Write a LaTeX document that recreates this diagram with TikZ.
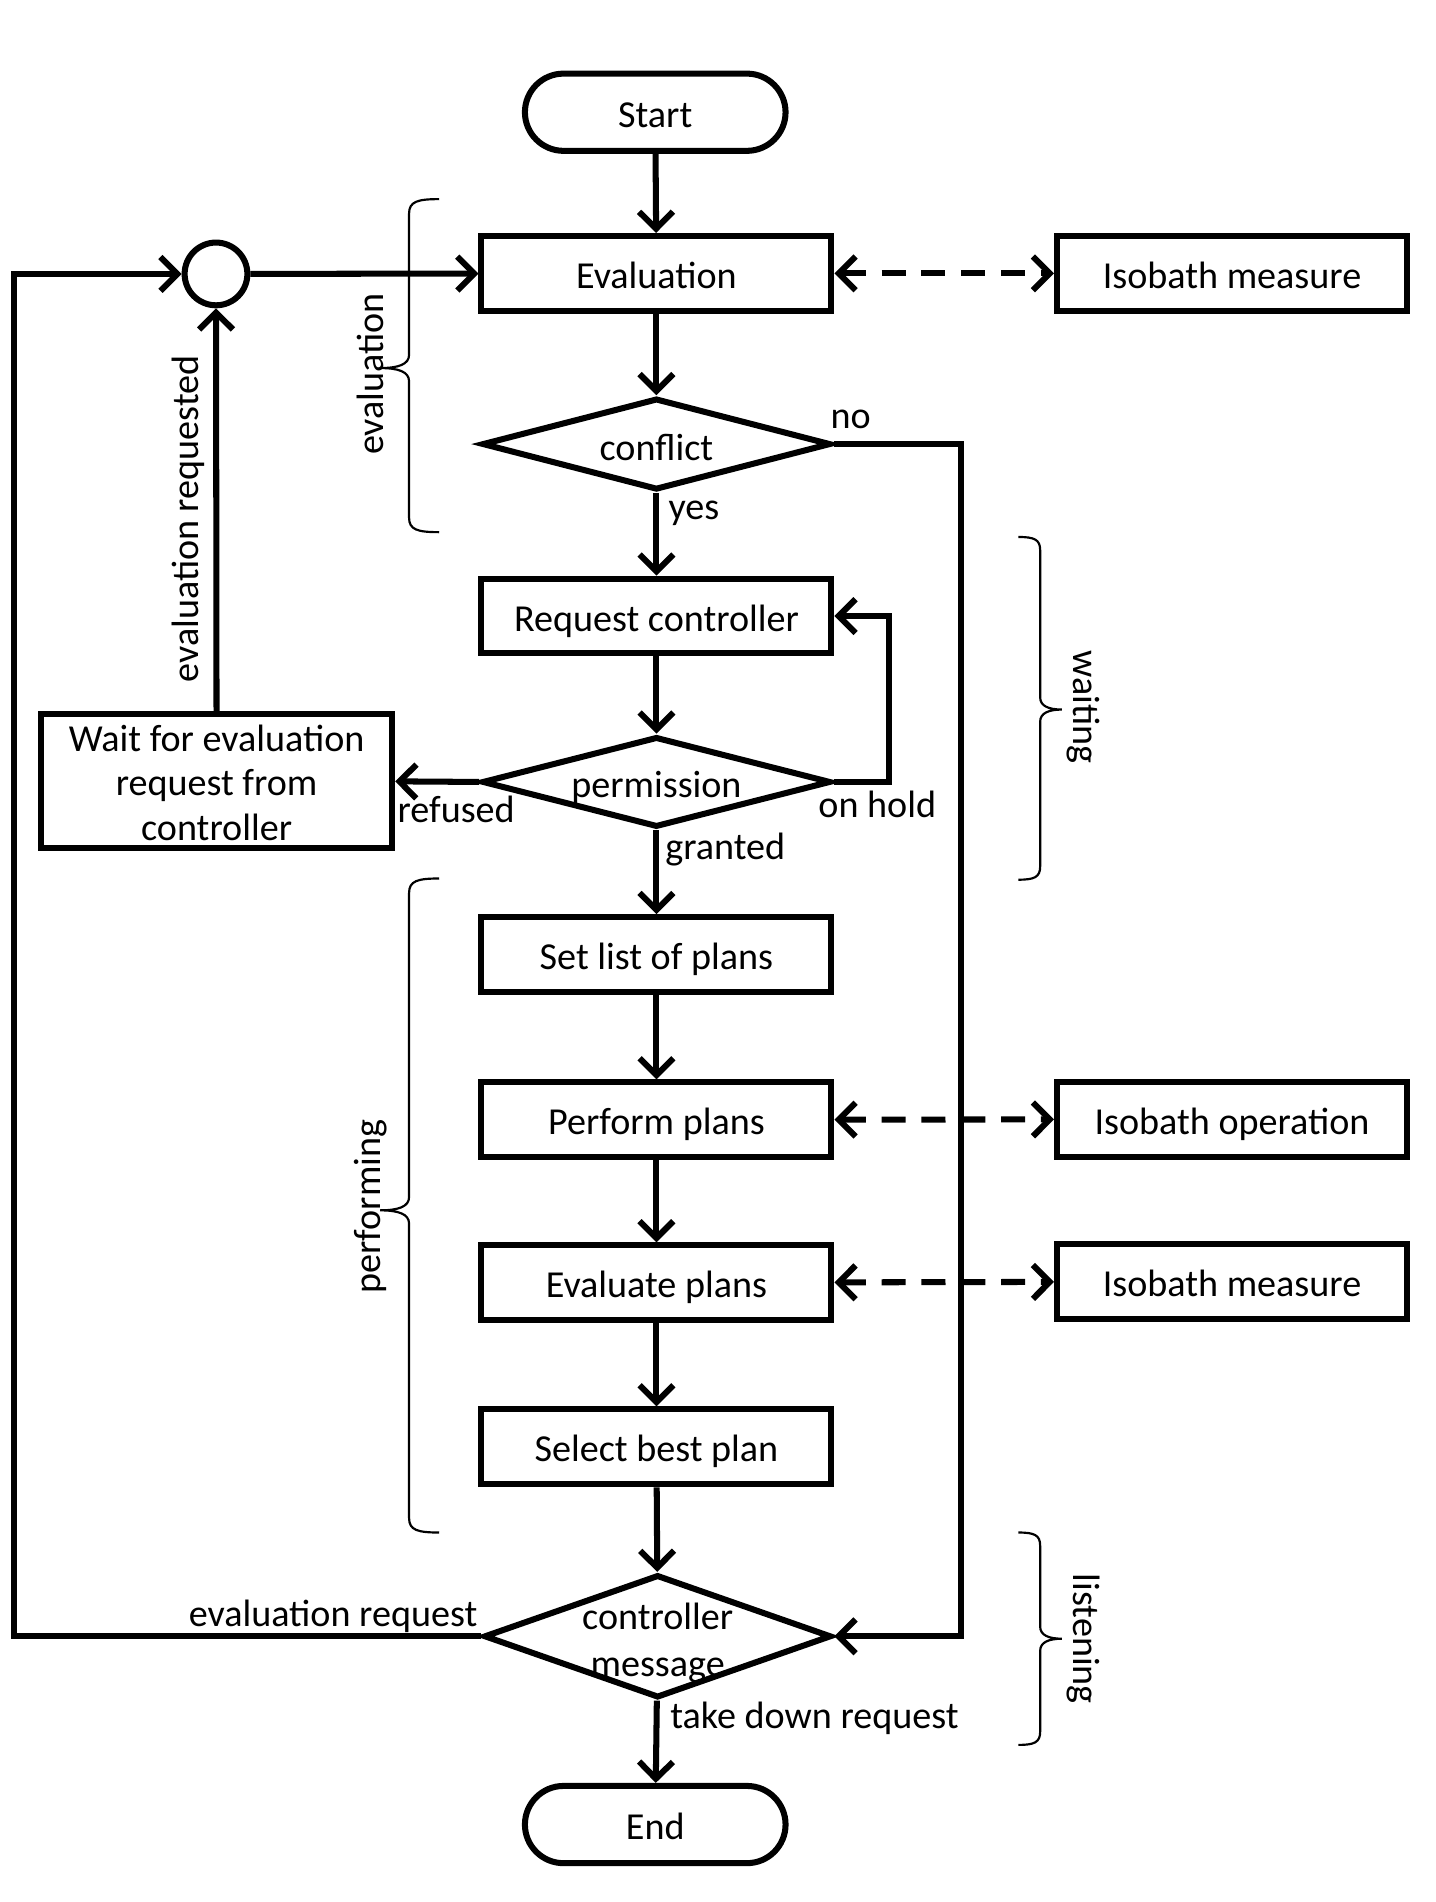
\documentclass[tikz,border=0pt]{standalone}
\usepackage{fontspec}
\setmainfont{Carlito}
\usetikzlibrary{shapes.geometric,arrows.meta}
\begin{document}
\begin{tikzpicture}[x=0.5pt,y=-0.5pt,
  font=\fontsize{15.8}{18.75}\selectfont,
  lw/.style={line width=2.5pt},
  txt/.style={text height=13.5pt,text depth=1pt},
  box/.style={draw,lw,rectangle,minimum width=145pt,minimum height=31pt,inner sep=0pt,align=center,txt},
  term/.style={draw,lw,rectangle,rounded corners=16pt,minimum width=108pt,minimum height=32pt,inner sep=0pt,txt},
  dec/.style={draw,lw,diamond,aspect=4,inner sep=0pt,align=center},
  conn/.style={lw,-{Straight Barb[length=7pt,width=14pt]}},
  dconn/.style={lw,dash pattern=on 10pt off 6.5pt,{Straight Barb[length=7pt,width=14pt]}-{Straight Barb[length=7pt,width=14pt]}},
  lbl/.style={inner sep=0pt,txt},
  brc/.style={line width=0.9pt}]
\useasboundingbox (0,0) rectangle (1190,1576.2);

% nodes
\node[term] (start) at (543,93) {Start};
\node[box] (eval) at (544,226.5) {Evaluation};
\node[box] (iso1) at (1021,226.5) {Isobath measure};
\node[draw,lw,circle,minimum size=26pt,inner sep=0pt] (circ) at (179,227) {};
\node[dec,minimum width=144.5pt,minimum height=38pt] (conf) at (544,368) {};
\node[lbl] at (544,369) {conflict};
\node[box] (reqc) at (544,510.5) {Request controller};
\node[dec,minimum width=144.5pt,minimum height=37.5pt] (perm) at (544,648) {};
\node[lbl] at (544,648) {permission};
\node[box,minimum width=145.5pt,minimum height=55.5pt] (wait) at (179.5,647.5) {};
\node[lbl] at (179.5,610) {Wait for evaluation};
\node[lbl] at (179.5,647) {request from};
\node[lbl] at (179.5,684) {controller};
\node[box] (setl) at (544,791) {Set list of plans};
\node[box] (perf) at (544,928) {Perform plans};
\node[box] (isoop) at (1021,927.5) {Isobath operation};
\node[box] (evalp) at (544,1063) {Evaluate plans};
\node[box] (iso2) at (1021,1062) {Isobath measure};
\node[box] (sel) at (544,1199) {Select best plan};
\node[dec,minimum width=144pt,minimum height=51pt] (ctrl) at (545,1356) {};
\node[lbl] at (545,1338) {controller};
\node[lbl] at (545,1377) {message};
\node[term] (end) at (543,1512) {End};

% labels
\node[lbl] at (705,343) {no};
\node[lbl] at (575,418) {yes};
\node[lbl] at (378,669) {refused};
\node[lbl] at (727,665) {on hold};
\node[lbl] at (601,700) {granted};
\node[lbl] at (276,1335) {evaluation request};
\node[lbl] at (675,1420) {take down request};
\node[lbl,rotate=90] at (152,430) {evaluation requested};
\node[lbl,rotate=90] at (305,310) {evaluation};
\node[lbl,rotate=-90] at (902,586) {waiting};
\node[lbl,rotate=90] at (303,1000) {performing};
\node[lbl,rotate=-90] at (902,1358) {listening};

% corner coordinates
\coordinate (nocorner) at (796,368);
\coordinate (holdcorner) at (737,648);
\coordinate (leftcorner) at (12,1356);

% connectors
\draw[conn] (start) -- (eval);
\draw[conn] (circ) -- (eval);
\draw[conn] (eval) -- (conf);
\draw[conn] (conf) -- (reqc);
\draw[conn] (conf.east) -- (nocorner) |- (ctrl.east);
\draw[conn] (reqc) -- (perm);
\draw[conn] (perm.east) -- (holdcorner) |- (reqc.east);
\draw[conn] (perm.west) -- (wait.east);
\draw[conn] (wait) -- (circ);
\draw[conn] (perm) -- (setl);
\draw[conn] (setl) -- (perf);
\draw[conn] (perf) -- (evalp);
\draw[conn] (evalp) -- (sel);
\draw[conn] (sel) -- (ctrl);
\draw[conn] (ctrl) -- (end);
\draw[conn] (ctrl.west) -- (leftcorner) |- (circ.west);
\draw[dconn] (eval) -- (iso1);
\draw[dconn] (perf) -- (isoop);
\draw[dconn] (evalp) -- (iso2);

% braces (left: ends 364, spine 339, tip 315)
\draw[brc] (364,165) .. controls (346,165) and (339,167) .. (339,177)
  -- (339,294) .. controls (339,302) and (330,305) .. (315,305)
  .. controls (330,305) and (339,308) .. (339,316)
  -- (339,429) .. controls (339,439) and (346,441) .. (364,441);
\draw[brc] (364,728) .. controls (346,728) and (339,730) .. (339,740)
  -- (339,992) .. controls (339,1000) and (330,1003) .. (315,1003)
  .. controls (330,1003) and (339,1006) .. (339,1014)
  -- (339,1258) .. controls (339,1268) and (346,1270) .. (364,1270);
% braces (right: ends 844, spine 862, tip 880)
\draw[brc] (844,445) .. controls (857,445) and (862,447) .. (862,456)
  -- (862,578) .. controls (862,585) and (869,588) .. (880,588)
  .. controls (869,588) and (862,591) .. (862,598)
  -- (862,718) .. controls (862,727) and (857,729) .. (844,729);
\draw[brc] (844,1270) .. controls (857,1270) and (862,1272) .. (862,1281)
  -- (862,1348) .. controls (862,1355) and (869,1358) .. (880,1358)
  .. controls (869,1358) and (862,1361) .. (862,1368)
  -- (862,1435) .. controls (862,1444) and (857,1446) .. (844,1446);
\end{tikzpicture}
\end{document}
